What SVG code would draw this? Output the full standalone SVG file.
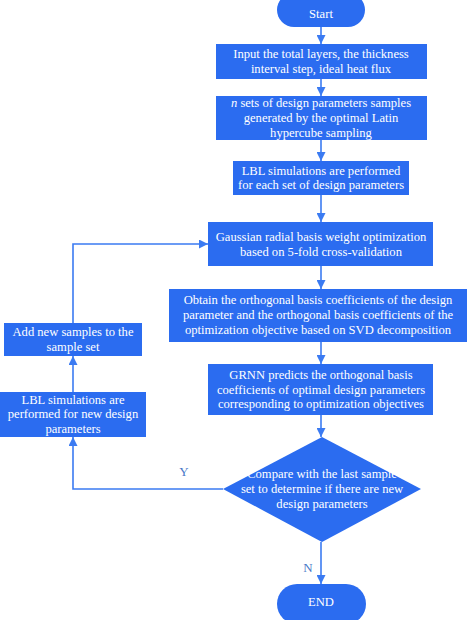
<svg xmlns="http://www.w3.org/2000/svg" width="474" height="620" viewBox="0 0 474 620">
<defs>
<style>
.box{fill:#2b6cf0;}
.t{font-family:'Liberation Serif','Times New Roman',Times,serif;font-size:12.6px;fill:#ffffff;text-anchor:middle;}
.lbl{font-family:'Liberation Serif','Times New Roman',Times,serif;font-size:13px;fill:#4a78c8;text-anchor:middle;}
.c{fill:none;stroke:#3b7bf2;stroke-width:1.6;}
</style>
<marker id="ah" viewBox="0 0 10 10" refX="10" refY="5" markerWidth="9" markerHeight="9" markerUnits="userSpaceOnUse" orient="auto">
<path d="M0,0 L10,5 L0,10 z" fill="#3b7bf2"/>
</marker>
</defs>
<rect width="474" height="620" fill="#ffffff"/>
<g id="connectors">
<line class="c" x1="321" y1="27" x2="321" y2="44" marker-end="url(#ah)"/>
<line class="c" x1="321" y1="79" x2="321" y2="96" marker-end="url(#ah)"/>
<line class="c" x1="321" y1="140" x2="321" y2="161" marker-end="url(#ah)"/>
<line class="c" x1="321" y1="195" x2="321" y2="222" marker-end="url(#ah)"/>
<line class="c" x1="321" y1="266" x2="321" y2="289" marker-end="url(#ah)"/>
<line class="c" x1="321" y1="342" x2="321" y2="364" marker-end="url(#ah)"/>
<line class="c" x1="321" y1="415" x2="321" y2="437" marker-end="url(#ah)"/>
<line class="c" x1="321" y1="542" x2="321" y2="584" marker-end="url(#ah)"/>
<polyline class="c" points="223,489 73,489 73,437" marker-end="url(#ah)"/>
<line class="c" x1="73" y1="392" x2="73" y2="356" marker-end="url(#ah)"/>
<polyline class="c" points="73,323 73,244 208,244" marker-end="url(#ah)"/>
<text class="lbl" x="184" y="476">Y</text>
<text class="lbl" x="308" y="572">N</text>
</g>
<g id="start">
<rect class="box" x="277" y="-7" width="88" height="34" rx="17"/>
<text class="t" x="321" y="18">Start</text>
</g>
<g id="input">
<rect class="box" x="216" y="44" width="211" height="35"/>
<text class="t" x="321" y="58">Input the total  layers, the thickness</text>
<text class="t" x="321" y="73">interval step,  ideal heat flux</text>
</g>
<g id="lhs">
<rect class="box" x="216" y="96" width="211" height="44"/>
<text class="t" x="321" y="107"><tspan font-style="italic">n</tspan> sets of design parameters samples</text>
<text class="t" x="321" y="122">generated by the optimal Latin</text>
<text class="t" x="321" y="137">hypercube sampling</text>
</g>
<g id="lbl1">
<rect class="box" x="233" y="161" width="176" height="34"/>
<text class="t" x="321" y="175">LBL simulations are performed</text>
<text class="t" x="321" y="189">for each set of design parameters</text>
</g>
<g id="gauss">
<rect class="box" x="208" y="222" width="225" height="44"/>
<text class="t" x="321" y="241">Gaussian radial basis weight optimization</text>
<text class="t" x="321" y="256">based on 5-fold cross-validation</text>
</g>
<g id="svd">
<rect class="box" x="169" y="289" width="298" height="53"/>
<text class="t" x="318" y="304">Obtain the orthogonal basis coefficients of the design</text>
<text class="t" x="318" y="319">parameter and the orthogonal basis coefficients of the</text>
<text class="t" x="318" y="334">optimization objective based on SVD decomposition</text>
</g>
<g id="grnn">
<rect class="box" x="208" y="364" width="225" height="51"/>
<text class="t" x="321" y="379">GRNN predicts the orthogonal basis</text>
<text class="t" x="321" y="394">coefficients of optimal design parameters</text>
<text class="t" x="321" y="408">corresponding to optimization objectives</text>
</g>
<g id="compare">
<polygon class="box" points="322,437 421,489 322,542 223,489"/>
<text class="t" x="322" y="478">Compare with the last sample</text>
<text class="t" x="322" y="493">set to determine if there are new</text>
<text class="t" x="322" y="508">design parameters</text>
</g>
<g id="lbl2">
<rect class="box" x="0" y="392" width="146" height="45"/>
<text class="t" x="73" y="404">LBL simulations are</text>
<text class="t" x="73" y="418">performed for new design</text>
<text class="t" x="73" y="433">parameters</text>
</g>
<g id="add">
<rect class="box" x="4" y="323" width="138" height="33"/>
<text class="t" x="73" y="336">Add  new samples to the</text>
<text class="t" x="73" y="351">sample set</text>
</g>
<g id="end">
<rect class="box" x="277" y="584" width="89" height="40" rx="20"/>
<text class="t" x="321" y="606">END</text>
</g>
</svg>
